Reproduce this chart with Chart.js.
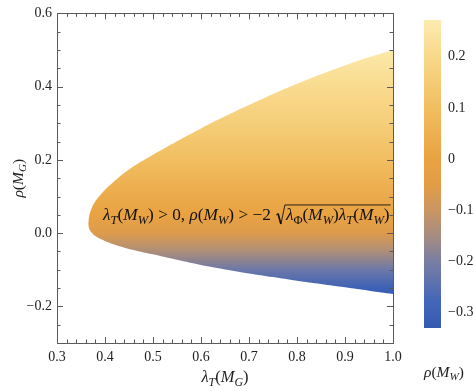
<!DOCTYPE html>
<html><head><meta charset="utf-8">
<script src="https://cdn.jsdelivr.net/npm/chart.js@4.4.1/dist/chart.umd.min.js"></script>
<style>
html,body{margin:0;padding:0;background:#fff;}
#wrap{position:relative;width:474px;height:391px;overflow:hidden;}
#c1{position:absolute;left:0;top:0;}
#c2{position:absolute;left:410px;top:0;}
</style></head><body>
<div id="wrap"><canvas id="c1" width="474" height="391"></canvas><canvas id="c2" width="64" height="391"></canvas></div>
<script>
// ---- data ----
// allowed region boundary, λ_T(M_G) vs ρ(M_G)
const upperLambda = [0.365, 0.367, 0.372, 0.380, 0.392, 0.41, 0.45, 0.50, 0.55, 0.60, 0.65, 0.70, 0.75, 0.80, 0.85, 0.90, 0.95, 1.00];
const upperRho    = [0.025, 0.046, 0.067, 0.087, 0.107, 0.131, 0.174, 0.214, 0.251, 0.286, 0.319, 0.350, 0.380, 0.408, 0.434, 0.458, 0.480, 0.500];
const lowerLambda = [0.365, 0.367, 0.372, 0.380, 0.392, 0.41, 0.45, 0.50, 0.55, 0.60, 0.65, 0.70, 0.75, 0.80, 0.85, 0.90, 0.95, 1.00];
const lowerRho    = [0.025, 0.012, 0.002, -0.008, -0.017, -0.027, -0.043, -0.058, -0.073, -0.087, -0.099, -0.110, -0.120, -0.130, -0.139, -0.148, -0.157, -0.166];
// shading: ρ(M_W) versus ρ(M_G)
const shadeRhoG = [0.60, 0.50, 0.40, 0.30, 0.20, 0.10, 0.05, 0.00, -0.05, -0.10, -0.15, -0.20];
const shadeRhoW = [0.27, 0.26, 0.21, 0.16, 0.10, 0.03, 0.00, -0.06, -0.14, -0.22, -0.30, -0.33];
// tick labels
const xTickValues = [0.3, 0.4, 0.5, 0.6, 0.7, 0.8, 0.9, 1.0];
const yTickValues = [-0.2, 0.0, 0.2, 0.4, 0.6];
const cbarTicks = [-0.3, -0.2, -0.1, 0, 0.1, 0.2];
const cbarRange = [-0.331, 0.272];
// colour map of the legend bar
const cmapValues = [-0.331, -0.28, -0.2, -0.15, -0.1, -0.05, 0.0, 0.1, 0.2, 0.272];
const cmapColors = [[52,90,175],[66,102,186],[122,126,162],[166,140,128],[202,150,98],[226,156,70],[233,162,66],[241,190,96],[248,216,138],[252,236,176]];

const SERIF = '"Liberation Serif", "DejaVu Serif", serif';
const MINUS = '\u2212';

function cmap(v){
  if (v <= cmapValues[0]) return cmapColors[0];
  for (let i=1;i<cmapValues.length;i++){
    if (v <= cmapValues[i]){
      const t=(v-cmapValues[i-1])/(cmapValues[i]-cmapValues[i-1]);
      const a=cmapColors[i-1], b=cmapColors[i];
      return [0,1,2].map(k=>Math.round(a[k]+(b[k]-a[k])*t));
    }
  }
  return cmapColors[cmapColors.length-1];
}
const rgb = c => `rgb(${c[0]},${c[1]},${c[2]})`;

function regionFill(ctx){
  const chart = ctx.chart;
  const ca = chart.chartArea;
  if (!ca) return 'rgb(233,162,66)';
  const ys = chart.scales.y;
  const y0 = ys.getPixelForValue(shadeRhoG[0]);
  const y1 = ys.getPixelForValue(shadeRhoG[shadeRhoG.length-1]);
  const g = chart.ctx.createLinearGradient(0, y0, 0, y1);
  shadeRhoG.forEach((r,i)=>{
    const off = (ys.getPixelForValue(r)-y0)/(y1-y0);
    g.addColorStop(Math.min(1,Math.max(0,off)), rgb(cmap(shadeRhoW[i])));
  });
  return g;
}

// rich text helpers
function segFont(s, size){
  const sz = s.sub ? size*0.72 : size;
  return (s.it ? 'italic ' : '') + sz.toFixed(1) + 'px ' + SERIF;
}
function measureSegs(ctx, segs, size){
  let w=0;
  for (const s of segs){
    if (s.sqrt){ w += size*0.62 + measureSegs(ctx, s.sqrt, size) + 1; continue; }
    ctx.font = segFont(s,size); w += ctx.measureText(s.t).width;
  }
  return w;
}
function drawSegs(ctx, segs, x, y, size){
  for (const s of segs){
    if (s.sqrt){
      const inner = measureSegs(ctx, s.sqrt, size);
      const rw = size*0.62;
      const top = y - size*0.86, bot = y + size*0.24;
      ctx.save();
      ctx.strokeStyle = ctx.fillStyle; ctx.lineWidth = 1;
      ctx.beginPath();
      ctx.moveTo(x+1, y - size*0.28);
      ctx.lineTo(x+size*0.16, y - size*0.36);
      ctx.stroke();
      ctx.lineWidth = 1.7;
      ctx.beginPath();
      ctx.moveTo(x+size*0.16, y - size*0.36);
      ctx.lineTo(x+size*0.33, bot);
      ctx.stroke();
      ctx.lineWidth = 0.9;
      ctx.beginPath();
      ctx.moveTo(x+size*0.33, bot);
      ctx.lineTo(x+rw-1, top);
      ctx.lineTo(x+rw+inner+1, top);
      ctx.stroke();
      ctx.restore();
      drawSegs(ctx, s.sqrt, x+rw, y, size);
      x += rw + inner + 1;
      continue;
    }
    ctx.font = segFont(s,size);
    ctx.fillText(s.t, x, y + (s.sub ? size*0.22 : 0));
    x += ctx.measureText(s.t).width;
  }
  return x;
}
const MW = [{t:'(',},{t:'M',it:1},{t:'W',it:1,sub:1},{t:')'}];
const constraintText = [
  {t:'\u03bb',it:1},{t:'T',it:1,sub:1},...MW,{t:' > 0, '},
  {t:'\u03c1',it:1},...MW,{t:' > '+MINUS+'2 '},
  {sqrt:[{t:'\u03bb',it:1},{t:'\u03a6',sub:1},...MW,{t:'\u03bb',it:1},{t:'T',it:1,sub:1},...MW]}
];
const xTitle = [{t:'\u03bb',it:1},{t:'T',it:1,sub:1},{t:'('},{t:'M',it:1},{t:'G',it:1,sub:1},{t:')'}];
const yTitle = [{t:'\u03c1',it:1},{t:'('},{t:'M',it:1},{t:'G',it:1,sub:1},{t:')'}];
const cTitle = [{t:'\u03c1',it:1},{t:'('},{t:'M',it:1},{t:'W',it:1,sub:1},{t:')'}];

const decorPlugin = {
  id:'decor',
  afterDatasetsDraw(chart){
    const {ctx, chartArea:ca, scales:{x:xs, y:ys}} = chart;
    ctx.save();
    // constraint label, spanning λ ≈ 0.396 … 0.995
    ctx.fillStyle = '#111';
    ctx.textBaseline = 'alphabetic';
    ctx.textAlign = 'left';
    const tx = xs.getPixelForValue(0.396);
    const tEnd = xs.getPixelForValue(0.995);
    const ty = ys.getPixelForValue(0.05) + 5;
    const base = 16;
    const fs = base * (tEnd - tx) / measureSegs(ctx, constraintText, base);
    drawSegs(ctx, constraintText, tx, ty, fs);
    // ticks
    ctx.strokeStyle = '#5a5a5a'; ctx.lineWidth = 1;
    ctx.beginPath();
    for (let k=0;k<=35;k++){
      const v = 0.3 + k*0.02;
      const px = Math.round(xs.getPixelForValue(v))+0.5;
      const len = (k%5===0) ? 6 : 3.5;
      ctx.moveTo(px, ca.bottom); ctx.lineTo(px, ca.bottom-len);
      ctx.moveTo(px, ca.top); ctx.lineTo(px, ca.top+len);
    }
    for (let k=0;k<=18;k++){
      const v = -0.3 + k*0.05;
      const py = Math.round(ys.getPixelForValue(v))+0.5;
      const major = yTickValues.some(t=>Math.abs(t-v)<1e-6);
      const len = major ? 6 : 3.5;
      ctx.moveTo(ca.left, py); ctx.lineTo(ca.left+len, py);
      ctx.moveTo(ca.right, py); ctx.lineTo(ca.right-len, py);
    }
    ctx.stroke();
    // frame
    ctx.strokeStyle = '#5a5a5a';
    ctx.strokeRect(Math.round(ca.left)+0.5, Math.round(ca.top)+0.5, Math.round(ca.right-ca.left), Math.round(ca.bottom-ca.top));
    // axis titles
    ctx.fillStyle = '#222';
    let w = measureSegs(ctx, xTitle, 16.5);
    drawSegs(ctx, xTitle, (ca.left+ca.right)/2 - w/2, 382, 16.5);
    ctx.save();
    ctx.translate(23, (ca.top+ca.bottom)/2);
    ctx.rotate(-Math.PI/2);
    w = measureSegs(ctx, yTitle, 15.5);
    drawSegs(ctx, yTitle, -w/2, 0, 15.5);
    ctx.restore();
    w = measureSegs(ctx, cTitle, 15.5);
    drawSegs(ctx, cTitle, 444 - w/2, 377, 15.5);
    ctx.restore();
  }
};

const fmt = v => { const s = Math.abs(v) < 1e-9 ? '0.0' : v.toFixed(1); return s.replace('-', MINUS); };

new Chart(document.getElementById('c1'), {
  type:'scatter',
  data:{ datasets:[
    { data: upperLambda.map((x,i)=>({x, y:upperRho[i]})), showLine:true, tension:0.4, borderWidth:0, pointRadius:0, fill:'+1', backgroundColor: regionFill },
    { data: lowerLambda.map((x,i)=>({x, y:lowerRho[i]})), showLine:true, tension:0.4, borderWidth:0, pointRadius:0, fill:false }
  ]},
  options:{
    responsive:false, animation:false, devicePixelRatio:1,
    layout:{ padding:{ left:0, top:8, right:81, bottom:0 } },
    plugins:{ legend:{display:false}, tooltip:{enabled:false} },
    scales:{
      x:{ type:'linear', min:0.3, max:1.0,
          afterBuildTicks: sc => { sc.ticks = xTickValues.map(v=>({value:v})); },
          afterFit: sc => { sc.height = 48; },
          grid:{display:false, drawTicks:false, tickLength:0}, border:{display:false},
          ticks:{ padding:6, maxRotation:0, autoSkip:false, color:'#222', font:{family:SERIF, size:14}, callback: v => fmt(v) } },
      y:{ type:'linear', min:-0.3, max:0.6,
          afterBuildTicks: sc => { sc.ticks = yTickValues.map(v=>({value:v})); },
          afterFit: sc => { sc.width = 57; },
          grid:{display:false, drawTicks:false, tickLength:0}, border:{display:false},
          ticks:{ padding:5, autoSkip:false, color:'#222', font:{family:SERIF, size:14}, callback: v => fmt(v) } }
    }
  },
  plugins:[decorPlugin]
});

function barFill(ctx){
  const chart = ctx.chart;
  const ca = chart.chartArea;
  if (!ca) return 'rgb(233,162,66)';
  const ys = chart.scales.y;
  const y0 = ys.getPixelForValue(cmapValues[0]);
  const y1 = ys.getPixelForValue(cmapValues[cmapValues.length-1]);
  const g = chart.ctx.createLinearGradient(0, y0, 0, y1);
  cmapValues.forEach((v,i)=>{ g.addColorStop((ys.getPixelForValue(v)-y0)/(y1-y0), rgb(cmapColors[i])); });
  return g;
}
const fmtC = v => { if (Math.abs(v)<1e-9) return '0'; return v.toFixed(1).replace('-', MINUS); };
new Chart(document.getElementById('c2'), {
  type:'bar',
  data:{ labels:['\u03c1(MW)'], datasets:[{ data:[cbarRange], backgroundColor: barFill, borderWidth:0, barPercentage:1, categoryPercentage:1 }] },
  options:{
    responsive:false, animation:false, devicePixelRatio:1,
    layout:{ padding:{ left:14, top:20, right:0, bottom:63 } },
    plugins:{ legend:{display:false}, tooltip:{enabled:false} },
    scales:{
      x:{ display:false },
      y:{ type:'linear', position:'right', min:cbarRange[0], max:cbarRange[1],
          afterBuildTicks: sc => { sc.ticks = cbarTicks.map(v=>({value:v})); },
          afterFit: sc => { sc.width = 33; },
          grid:{display:false, drawTicks:false, tickLength:0}, border:{display:false},
          ticks:{ padding:7, autoSkip:false, color:'#222', font:{family:SERIF, size:14}, callback: v => fmtC(v) } }
    }
  }
});
</script>
</body></html>
